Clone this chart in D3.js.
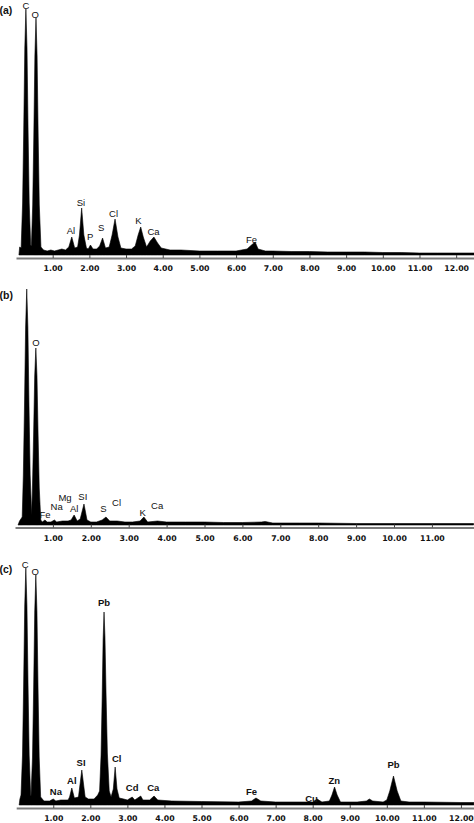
<!DOCTYPE html>
<html>
<head>
<meta charset="utf-8">
<script src="https://cdn.jsdelivr.net/npm/d3@7"></script>
<style>
  html, body { margin: 0; padding: 0; background: #fff; }
  svg { display: block; }
</style>
</head>
<body>
<svg id="chart" width="474" height="823"></svg>
<script>
// ---------------- DATA ----------------
// Each spectrum: [energy keV, counts (arbitrary units)]
const spectrumA = [
  [0.08,0],[0.10,8],[0.14,7],[0.18,52],[0.21,123],[0.24,207],[0.27,246],[0.30,207],[0.33,123],[0.36,52],[0.40,10],
  [0.42,9],[0.455,50],[0.485,118],[0.515,199],[0.545,237],[0.575,199],[0.605,118],[0.635,50],[0.68,8],
  [0.75,5],[0.85,4],[0.95,5],[1.05,4],[1.15,5],[1.25,6],[1.35,5],[1.44,8],[1.52,18],[1.60,7],[1.68,8],
  [1.73,20],[1.79,47],[1.85,20],[1.92,7],[1.97,6],[2.03,10],[2.10,6],[2.20,6],[2.28,9],[2.36,17],[2.44,7],
  [2.54,8],[2.62,20],[2.70,36],[2.78,18],[2.86,7],[3.00,6],[3.15,6],[3.25,9],[3.33,20],[3.40,28],[3.47,18],
  [3.56,8],[3.66,14],[3.76,18],[3.86,12],[3.96,7],[4.20,5],[4.50,5],[5.00,4],[5.50,4],[6.00,4],[6.30,6],
  [6.42,10],[6.52,13],[6.60,6],[6.80,4],[7.00,4],[7.50,3.5],[8.00,3.5],[8.50,3],[9.00,3],[9.50,3],
  [10.00,2.5],[10.50,2.5],[11.00,2],[11.50,2],[12.00,2],[12.50,2]
];
const spectrumB = [
  [0.08,0],[0.12,4],[0.19,8],[0.22,50],[0.25,118],[0.28,198],[0.31,236],[0.34,198],[0.37,118],[0.40,50],[0.44,10],
  [0.46,37],[0.49,89],[0.52,149],[0.55,177],[0.58,149],[0.61,89],[0.64,37],[0.68,5],
  [0.72,3],[0.79,5],[0.85,3],[0.95,3],[1.04,5],[1.10,3],[1.25,4],[1.40,4],[1.48,5],[1.56,10],[1.64,4],
  [1.72,6],[1.82,21],[1.90,5],[2.00,3],[2.15,3],[2.30,5],[2.40,8],[2.50,4],[2.70,4],[2.90,3],[3.10,3],
  [3.30,4],[3.40,8],[3.50,3],[3.76,4],[4.00,3],[4.50,3],[5.00,3],[5.50,2.5],[6.00,2.5],[6.50,3],[6.60,3.5],
  [6.80,2],[7.50,2],[8.00,2],[9.00,1.5],[10.00,1.5],[11.00,1.5],[12.10,1.5]
];
const spectrumC = [
  [0.08,0],[0.10,6],[0.13,10],[0.17,50],[0.20,119],[0.23,199],[0.26,237],[0.29,199],[0.32,119],[0.35,50],[0.39,10],
  [0.40,9],[0.44,48],[0.47,115],[0.50,193],[0.53,230],[0.56,193],[0.59,115],[0.62,48],[0.66,8],
  [0.75,4],[0.90,4],[1.00,6],[1.07,4],[1.20,5],[1.40,5],[1.44,8],[1.50,17],[1.57,7],[1.68,8],[1.77,35],
  [1.86,8],[1.95,6],[2.10,6],[2.20,10],[2.25,14],[2.29,50],[2.32,108],[2.345,165],[2.37,193],[2.395,168],
  [2.425,110],[2.46,52],[2.51,14],[2.56,8],[2.62,16],[2.67,38],[2.72,16],[2.78,7],[2.90,6],[3.00,5],
  [3.13,8],[3.20,5],[3.36,9],[3.42,5],[3.60,5],[3.72,9],[3.82,5],[4.20,4],[5.00,3.5],[6.00,3],[6.35,4],
  [6.47,7],[6.60,4],[7.00,3],[8.00,3],[8.12,6],[8.25,3],[8.45,4],[8.52,10],[8.59,18],[8.66,10],[8.75,3],
  [9.20,3],[9.45,4],[9.53,6],[9.62,4],[9.90,3],[10.00,5],[10.08,14],[10.18,29],[10.28,14],[10.38,4],
  [10.60,3],[11.00,3],[12.00,2.5],[12.35,2.5]
];

// Peak labels: element, energy (keV), count level
const labelsA = [
  {t:"C", e:0.27, c:249}, {t:"O", e:0.52, c:240}, {t:"Al", e:1.50, c:24}, {t:"Si", e:1.77, c:52},
  {t:"P", e:2.02, c:18}, {t:"S", e:2.32, c:27}, {t:"Cl", e:2.66, c:41}, {t:"K", e:3.34, c:34},
  {t:"Ca", e:3.75, c:23}, {t:"Fe", e:6.42, c:15}
];
const labelsB = [
  {t:"O", e:0.55, c:182}, {t:"Fe", e:0.79, c:10}, {t:"Na", e:1.10, c:18}, {t:"Mg", e:1.32, c:27},
  {t:"Al", e:1.56, c:16}, {t:"SI", e:1.79, c:28}, {t:"S", e:2.33, c:16}, {t:"Cl", e:2.68, c:22},
  {t:"K", e:3.37, c:12}, {t:"Ca", e:3.75, c:19}
];
const labelsC = [
  {t:"C", e:0.24, c:240, b:false}, {t:"O", e:0.51, c:233, b:false}, {t:"Pb", e:2.37, c:202, b:true},
  {t:"Na", e:1.07, c:13, b:true}, {t:"Al", e:1.50, c:24, b:true}, {t:"SI", e:1.75, c:42, b:true},
  {t:"Cl", e:2.71, c:46, b:true}, {t:"Cd", e:3.13, c:17, b:true}, {t:"Ca", e:3.70, c:17, b:true},
  {t:"Fe", e:6.35, c:13, b:true}, {t:"Cu", e:7.97, c:6, b:true}, {t:"Zn", e:8.58, c:24, b:true},
  {t:"Pb", e:10.18, c:40, b:true}
];

// Tick values (keV)
const ticksA = [1,2,3,4,5,6,7,8,9,10,11,12];
const ticksB = [1,2,3,4,5,6,7,8,9,10,11];
const ticksC = [1,2,3,4,5,6,7,8,9,10,11,12];

// ---------------- LAYOUT ----------------
const panels = [
  {name:"(a)", spec:spectrumA, labels:labelsA, ticks:ticksA, xDom:[0,12.5], xRange:[16,474.5],
   yDom:[0,250], yRange:[255,5], axisY:258, pad:7, tagY:10},
  {name:"(b)", spec:spectrumB, labels:labelsB, ticks:ticksB, xDom:[0,12.1], xRange:[15,473.6],
   yDom:[0,240], yRange:[525,285], axisY:527.5, pad:8, tagY:295},
  {name:"(c)", spec:spectrumC, labels:labelsC, ticks:ticksC, xDom:[0,12.35], xRange:[16.2,473.9],
   yDom:[0,240], yRange:[805,565], axisY:808, pad:7, tagY:569}
];

const svg = d3.select("#chart");
svg.append("rect").attr("width",474).attr("height",823).attr("fill","#fff");

panels.forEach(p => {
  const x = d3.scaleLinear().domain(p.xDom).range(p.xRange);
  const y = d3.scaleLinear().domain(p.yDom).range(p.yRange);
  const g = svg.append("g");

  const area = d3.area()
    .x(d => x(d[0]))
    .y0(y(0))
    .y1(d => y(d[1]))
    .curve(d3.curveLinear);
  g.append("path").datum(p.spec)
    .attr("d", area)
    .attr("fill", "#000")
    .attr("stroke", "#000")
    .attr("stroke-width", 0.6)
    .attr("stroke-linejoin", "round");

  // axis
  const axis = d3.axisBottom(x)
    .tickValues(p.ticks)
    .tickFormat(d3.format(".2f"))
    .tickSizeInner(-3)
    .tickSizeOuter(0)
    .tickPadding(p.pad);
  const ag = g.append("g").attr("transform", `translate(0,${p.axisY})`).call(axis);
  ag.select(".domain").attr("stroke", "#7a7a7a").attr("stroke-width", 2);
  ag.selectAll(".tick line").attr("stroke", "#444").attr("stroke-width", 1);
  ag.selectAll(".tick text")
    .attr("fill", "#111")
    .style("font-family", "'DejaVu Sans', sans-serif")
    .style("font-weight", "bold")
    .style("font-size", "7.8px");

  // peak labels
  g.selectAll("text.lab").data(p.labels).enter().append("text")
    .attr("class", "lab")
    .attr("x", d => x(d.e))
    .attr("y", d => y(d.c))
    .attr("dy", "0.35em")
    .attr("text-anchor", "middle")
    .style("font-family", "'Liberation Sans', Arial, sans-serif")
    .style("font-size", "9.5px")
    .style("font-weight", d => d.b ? "bold" : "normal")
    .attr("fill", "#111")
    .text(d => d.t);

  // panel tag
  svg.append("text")
    .attr("x", -0.5).attr("y", p.tagY).attr("dy", "0.35em")
    .style("font-family", "'Liberation Sans', Arial, sans-serif")
    .style("font-size", "10.5px").style("font-weight", "bold")
    .attr("fill", "#111")
    .text(p.name);
});
</script>
</body>
</html>
